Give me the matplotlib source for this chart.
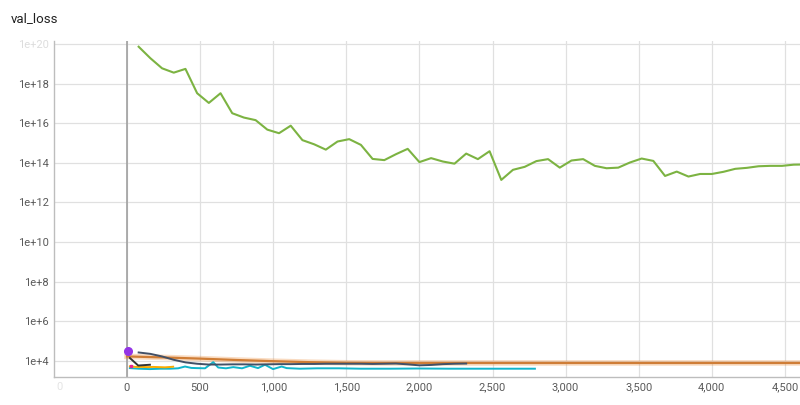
import numpy as np
import matplotlib
matplotlib.use('Agg')
import matplotlib.pyplot as plt
from matplotlib.ticker import FixedLocator, NullLocator

plt.rcParams['font.family'] = ['Roboto', 'DejaVu Sans']

# green run (log10 of val_loss), one point every 80 steps
green_steps = list(range(80, 4641, 80))
green_log = [19.87, 19.29, 18.78, 18.56, 18.75, 17.52, 17.03, 17.52, 16.51, 16.29,
             16.16, 15.68, 15.50, 15.88, 15.15, 14.94, 14.67, 15.08, 15.20, 14.91,
             14.20, 14.14, 14.44, 14.71, 14.04, 14.24, 14.07, 13.96, 14.47, 14.19,
             14.59, 13.14, 13.65, 13.80, 14.09, 14.19, 13.76, 14.12, 14.19, 13.85,
             13.73, 13.76, 14.02, 14.22, 14.10, 13.34, 13.56, 13.31, 13.44, 13.44,
             13.55, 13.70, 13.75, 13.83, 13.85, 13.85, 13.91, 13.92]

# slate run
slate_steps = list(range(80, 2321, 80))
slate_log = [4.42, 4.35, 4.22, 4.05, 3.92, 3.85, 3.81, 3.81, 3.82, 3.82,
             3.81, 3.82, 3.83, 3.83, 3.84, 3.84, 3.85, 3.85, 3.85, 3.85,
             3.84, 3.85, 3.86, 3.82, 3.77, 3.79, 3.83, 3.85, 3.86]

# orange run
orange_steps = [0, 250, 500, 750, 1000, 1250, 1500, 1750, 2000, 2500, 3000, 3500, 4000, 4500, 4640]
orange_log = [4.22, 4.17, 4.11, 4.04, 3.98, 3.93, 3.90, 3.89, 3.89, 3.89, 3.89, 3.89, 3.89, 3.89, 3.89]

# cyan run
cyan_steps = [20, 80, 157, 230, 294, 350, 397, 440, 477, 534, 590, 624, 677, 727, 787,
              841, 896, 944, 999, 1058, 1092, 1183, 1300, 1450, 1600, 1800, 2000, 2200,
              2400, 2600, 2790]
cyan_log = [3.63, 3.60, 3.58, 3.60, 3.60, 3.62, 3.71, 3.64, 3.63, 3.62, 3.93, 3.66, 3.62,
            3.68, 3.62, 3.75, 3.63, 3.80, 3.58, 3.71, 3.63, 3.60, 3.62, 3.62, 3.60, 3.60,
            3.61, 3.60, 3.60, 3.60, 3.60]

# yellow run
yellow_steps = [20, 60, 100, 140, 180, 220, 260, 300, 316]
yellow_log = [3.72, 3.69, 3.69, 3.68, 3.69, 3.68, 3.67, 3.69, 3.70]

# short dark run
dark_steps = [20, 77, 157]
dark_log = [4.14, 3.76, 3.80]

# single-point runs
purple_step, purple_log = 8, 4.47
pink_step, pink_log = 25, 3.72

ytick_exp = [4, 6, 8, 10, 12, 14, 16, 18, 20]
ytick_labels = ['1e+%d' % e for e in ytick_exp]
xtick_vals = [0, 500, 1000, 1500, 2000, 2500, 3000, 3500, 4000, 4500]
xtick_labels = ['{:,}'.format(v) for v in xtick_vals]


def p(vals):
    return 10 ** np.array(vals)


fig = plt.figure(figsize=(8, 4.05), dpi=100)
ax = fig.add_axes([0.0675, 0.0691, 0.9325, 0.8297])

ax.plot(orange_steps, p(orange_log), color='#e8710a', lw=4, alpha=0.25, zorder=2)
ax.plot(orange_steps, p(orange_log), color='#cf7d36', lw=1.6, zorder=3)
ax.plot(cyan_steps, p(cyan_log), color='#12b5cb', lw=1.4, zorder=3)
ax.plot(yellow_steps, p(yellow_log), color='#f9ab00', lw=1.4, zorder=3)
ax.plot(slate_steps, p(slate_log), color='#425066', lw=1.4, zorder=4)
ax.plot(dark_steps, p(dark_log), color='#333333', lw=1.4, zorder=4)
ax.plot(green_steps, p(green_log), color='#7cb342', lw=1.5, zorder=3)
ax.plot([pink_step], [10 ** pink_log], 's', color='#e52592', ms=1.6, zorder=5)
ax.plot([purple_step], [10 ** purple_log], 'o', color='#9334e6', ms=5.5, zorder=6)

ax.set_yscale('log')
ax.set_xlim(-499, 4603)
ax.set_ylim(10 ** 3.18, 10 ** 20.16)

ax.yaxis.set_major_locator(FixedLocator([10.0 ** e for e in ytick_exp]))
ax.yaxis.set_minor_locator(NullLocator())
ax.set_yticklabels(ytick_labels)
ax.set_xticks(xtick_vals)
ax.set_xticklabels(xtick_labels)
ax.tick_params(axis='both', length=0, labelsize=8, labelcolor='#5a5a5a', pad=4)
ax.get_yticklabels()[-1].set_color('#dddddd')

ax.grid(True, color='#e0e0e0', lw=0.9)
ax.set_axisbelow(True)
ax.axvline(0, color='#a0a0a0', lw=1.2, zorder=1)

for s in ['top', 'right']:
    ax.spines[s].set_visible(False)
for s in ['left', 'bottom']:
    ax.spines[s].set_color('#bdbdbd')
    ax.spines[s].set_linewidth(1.0)

# faded edge label on the x axis
ax.text(-460, -0.015, '0', transform=ax.get_xaxis_transform(), ha='center', va='top',
        fontsize=8, color='#e4e4e4')

fig.text(0.013, 0.955, 'val_loss', fontsize=9.5, color='#212121', va='center', ha='left')

fig.savefig('out.png', dpi=100)
